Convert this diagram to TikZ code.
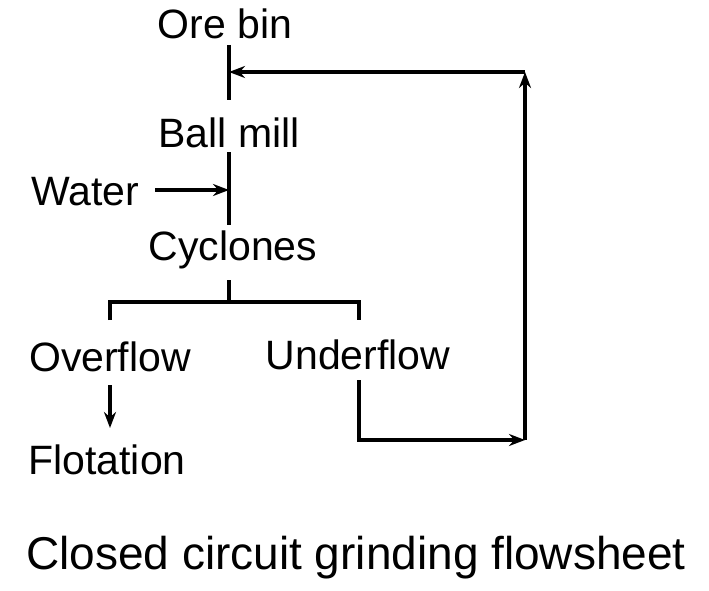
\documentclass[tikz,border=0pt]{standalone}
\usepackage{fontspec}
\setmainfont{Liberation Sans}
\usetikzlibrary{arrows.meta}
\begin{document}
\begin{tikzpicture}[x=1pt,y=-1pt,
  lbl/.style={font=\fontsize{41}{46}\selectfont, inner sep=0pt},
  ln/.style={line width=3.5pt},
  arr/.style={ln,-{Stealth[length=16pt,width=12pt]}}]
\useasboundingbox (0,0) rectangle (709,591);
\node[lbl] (ore) at (225,24) {Ore bin};
\node[lbl] (ball) at (229,133) {Ball mill};
\node[lbl] (water) at (85,192) {Water};
\node[lbl] (cyc) at (233,250) {Cyclones};
\node[lbl] (over) at (110,357) {Overflow};
\node[lbl] (under) at (358,355) {Underflow};
\node[lbl] (flot) at (107,460) {Flotation};
\node[lbl, font=\fontsize{46}{50}\selectfont] (cap) at (356,558) {Closed circuit grinding flowsheet};
\coordinate (j1) at (229,72);
\coordinate (j2) at (229,190);
\coordinate (rt) at (525,72);
\coordinate (rb) at (525,440);
\coordinate (ub) at (359,440);
\draw[ln] (229,45) -- (229,100);
\draw[ln] (229,152) -- (229,225);
\draw[ln] (229,280) -- (229,302);
\draw[arr] (rt) -- (j1);
\draw[arr] (rb) -- (rt);
\draw[arr] (155,190) -- (j2);
\draw[ln] (110,320) -- (110,302) -- (359,302) -- (359,320);
\draw[arr] (110,385) -- (110,428);
\draw[arr] (359,380) -- (ub) -- (rb);
\end{tikzpicture}
\end{document}
